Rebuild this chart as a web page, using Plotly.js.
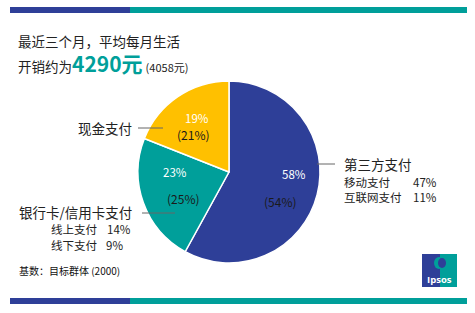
<!DOCTYPE html>
<html><head><meta charset="utf-8">
<script src="https://cdn.plot.ly/plotly-3.0.1.min.js"></script>
<style>html,body{margin:0;padding:0;background:#fff}#chart{width:475px;height:313px}</style>
</head><body><div id="chart"></div>
<script>
// ---- data ----
const categories = ['第三方支付', '银行卡/信用卡支付', '现金支付'];
const shares = [58, 23, 19];          // current %
const prevShares = [54, 25, 21];      // previous period %
const thirdPartySub = ['移动支付', '互联网支付'];
const thirdPartySubValues = [47, 11];
const cardSub = ['线上支付', '线下支付'];
const cardSubValues = [14, 9];
const avgSpend = 4290;
const prevAvgSpend = 4058;
const baseCount = 2000;

// ---- styling ----
const BLUE = '#2E3F98', TEAL = '#009F9A', YELLOW = '#FFC000';
const colors = [BLUE, TEAL, YELLOW];
const FONT = '"Noto Sans CJK SC", "Microsoft YaHei", sans-serif';
const W = 475, H = 313;
const X = p => p / W, Y = p => 1 - p / H;

const cx = 229, cy = 172, r = 91;

const trace = {
  type: 'pie',
  values: shares,
  labels: categories,
  textinfo: 'none',
  sort: false,
  direction: 'clockwise',
  rotation: 0,
  marker: {colors: colors, line: {color: '#ffffff', width: 1.5}},
  domain: {x: [X(cx - r), X(cx + r)], y: [Y(cy + r), Y(cy - r)]},
  showlegend: false,
  hoverinfo: 'none'
};

const ann = [];
function txt(x, y, t, size, opts) {
  ann.push(Object.assign({xref: 'paper', yref: 'paper', x: X(x), y: Y(y), text: t, showarrow: false,
    xanchor: 'left', yanchor: 'middle', font: {family: FONT, size: size, color: '#222'}}, opts || {}));
}
// title
txt(16, 41, '最近三个月，平均每月生活', 13.5);
txt(16, 63, '开销约为<span style="font-size:21px;color:' + TEAL + '"><b>' + avgSpend + '元</b></span> <span style="font-size:11px">(' + prevAvgSpend + '元)</span>', 13.5);
// inside labels (current share in white, previous in dark)
const curPos = [[294, 174], [175, 172], [197, 118]];
const prevPos = [[280, 201], [183, 198], [193, 135]];
shares.forEach((v, i) => {
  txt(curPos[i][0], curPos[i][1], v + '%', 11.5, {xanchor: 'center', font: {family: FONT, size: 11.5, color: '#ffffff'}});
  txt(prevPos[i][0], prevPos[i][1], '(' + prevShares[i] + '%)', 12, {xanchor: 'center', font: {family: FONT, size: 12, color: '#1a1a1a'}});
});
// outside labels
txt(134, 128, categories[2], 13.5, {xanchor: 'right'});
txt(134, 212, categories[1], 13.5, {xanchor: 'right'});
txt(49, 229, cardSub[0], 11.5);
txt(49, 245, cardSub[1], 11.5);
txt(133, 229, cardSubValues[0] + '%', 11.5, {xanchor: 'right'});
txt(125, 245, cardSubValues[1] + '%', 11.5, {xanchor: 'right'});
txt(342, 164, categories[0], 13.5);
txt(342, 182, thirdPartySub[0], 11.5);
txt(342, 197, thirdPartySub[1], 11.5);
txt(439, 182, thirdPartySubValues[0] + '%', 11.5, {xanchor: 'right'});
txt(439, 197, thirdPartySubValues[1] + '%', 11.5, {xanchor: 'right'});
// footer
txt(17, 270, '基数：目标群体 (' + baseCount + ')', 10, {font: {family: FONT, size: 10, color: '#111'}});
// logo text
txt(439.5, 279, '<b>Ipsos</b>', 9.5, {xanchor: 'center', font: {family: 'Open Sans, sans-serif', size: 9.5, color: '#fff'}});

const shapes = [];
function rect(x0, y0, x1, y1, c) {
  shapes.push({type: 'rect', xref: 'paper', yref: 'paper', x0: X(x0), x1: X(x1), y0: Y(y1), y1: Y(y0),
    fillcolor: c, line: {width: 0}, layer: 'above'});
}
function line(x0, y, x1) {
  shapes.push({type: 'line', xref: 'paper', yref: 'paper', x0: X(x0), x1: X(x1), y0: Y(y), y1: Y(y),
    line: {color: '#666', width: 1}, layer: 'above'});
}
rect(10, 7, 130, 13, BLUE);
rect(130, 7, 467, 13, TEAL);
rect(10, 298, 130, 304, BLUE);
rect(130, 298, 467, 304, TEAL);
// logo
rect(422, 254, 440, 287, BLUE);
rect(440, 254, 457, 287, TEAL);
shapes.push({type: 'circle', xref: 'paper', yref: 'paper', x0: X(434), x1: X(444), y0: Y(269), y1: Y(257),
  fillcolor: TEAL, line: {width: 0}, layer: 'above'});
shapes.push({type: 'circle', xref: 'paper', yref: 'paper', x0: X(438), x1: X(446), y0: Y(268), y1: Y(258),
  fillcolor: BLUE, line: {width: 0}, layer: 'above'});
// leader lines
line(138, 128, 163);
line(142, 213, 175);
line(317, 164, 335);

Plotly.newPlot('chart', [trace], {
  width: W, height: H, margin: {l: 0, r: 0, t: 0, b: 0},
  paper_bgcolor: '#fff', plot_bgcolor: '#fff',
  annotations: ann, shapes: shapes
}, {staticPlot: true});
</script></body></html>
